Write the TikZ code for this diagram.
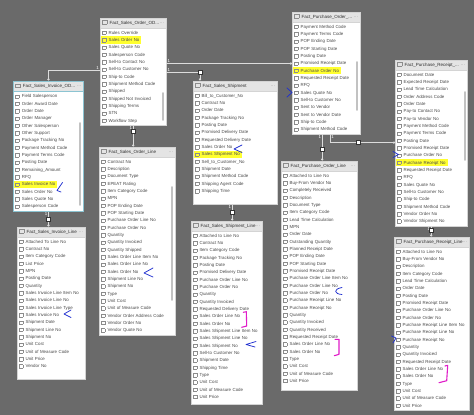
\documentclass[tikz,border=0pt]{standalone}
\usepackage{fontspec}
\setmainfont{Liberation Sans}
\usetikzlibrary{positioning,arrows.meta}
\definecolor{canvasgray}{HTML}{6A6A6A}
\definecolor{framegray}{HTML}{D4D4D4}
\definecolor{selframe}{HTML}{8CC4D2}
\definecolor{headgray}{HTML}{E4E4E4}
\definecolor{headtext}{HTML}{2E2E2E}
\definecolor{rowtext}{HTML}{4A4A4A}
\definecolor{icongray}{HTML}{8C8C8C}
\definecolor{hlyellow}{HTML}{FFFF30}
\definecolor{relgray}{HTML}{DCDCDC}
\definecolor{scrollgray}{HTML}{C2C2C2}
\definecolor{penblue}{HTML}{2030D0}
\definecolor{penpink}{HTML}{E01CC8}
\setlength{\fboxsep}{0pt}
\setlength{\fboxrule}{0.35pt}
\newcommand{\rowfont}{\fontsize{4.4}{7.33}\selectfont}
\newcommand{\headfont}{\fontsize{4.5}{6}\selectfont}
\newcommand{\cardfont}{\fontsize{4.4}{5}\selectfont}
\newcommand{\ic}{\strut\textcolor{icongray}{\fbox{\rule{0pt}{3pt}\rule{3.3pt}{0pt}}}\hspace{2.4pt}}
\newcommand{\tic}{\textcolor{icongray}{\fbox{\rule{0pt}{3.6pt}\rule{4.2pt}{0pt}}}\hspace{2.5pt}}
\newcommand{\hl}[1]{\hspace*{-1pt}\colorbox{hlyellow}{\hspace{1pt}#1\hspace{2pt}}}
\newcommand{\menudots}{\hfill\textcolor{icongray}{\textperiodcentered\textperiodcentered\textperiodcentered}}
\newcommand{\tailpad}[1]{\rule[-#1]{0pt}{0pt}}

\begin{document}
\begin{tikzpicture}[x=1pt, y=-1pt,
  tblhead/.style={draw=framegray, fill=headgray, anchor=north west, inner xsep=2pt, inner ysep=0pt, minimum height=10pt, align=left, font=\headfont, text=headtext},
  tblbody/.style={draw=framegray, fill=white, anchor=north west, inner xsep=2pt, inner ysep=1pt, align=left, font=\rowfont, text=rowtext},
  rel/.style={draw=relgray, line width=0.6pt, -{Circle[length=2.2pt]}},
  relmark/.style={draw=black!80, fill=white, line width=0.8pt, minimum size=4pt, inner sep=0pt},
  card/.style={font=\cardfont, text=white, inner sep=0.8pt},
  scrollbar/.style={draw=scrollgray, line width=1.8pt, line cap=round},
  penmark/.style={draw=penblue, line width=0.75pt, line cap=round, line join=round},
  bracemark/.style={draw=penpink, line width=1.1pt, line cap=round, line join=round}]
\useasboundingbox (0,0) rectangle (474,415);
\fill[canvasgray] (0,0) rectangle (474,415);
%			\draw[help lines] (0,0) grid[step=50] (474,415);

% header tables
\node[tblhead, draw=selframe, line width=0.9pt, text width=66pt] (sinvodh) at (13,80.5) {\tic Fact\_Sales\_Invoice\_OD...\menudots};
\node[tblbody, draw=selframe, line width=0.9pt, text width=66pt] (sinvod) at (sinvodh.south west) {\ic Field Salesperson\\ \ic Order Award Date\\ \ic Order Date\\ \ic Order Manager\\ \ic Other Salesperson\\ \ic Other Support\\ \ic Package Tracking No\\ \ic Payment Method Code\\ \ic Payment Terms Code\\ \ic Posting Date\\ \ic Remaining\_Amount\\ \ic RFQ\\ \hl{\ic Sales Invoice No}\\ \ic Sales Order No\\ \ic Sales Quote No\\ \ic Salesperson Code};

\node[tblhead, text width=62pt] (sordodh) at (100,17.5) {\tic Fact\_Sales\_Order\_OD...\menudots};
\node[tblbody, text width=62pt] (sordod) at (sordodh.south west) {\ic Rules Override\\ \hl{\ic Sales Order No}\\ \ic Sales Quote No\\ \ic Salesperson Code\\ \ic Sell-to Contact No\\ \ic Sell-to Customer No\\ \ic Ship-to Code\\ \ic Shipment Method Code\\ \ic Shipped\\ \ic Shipped Not Invoiced\\ \ic Shipping Terms\\ \ic STN\\ \ic Workflow Step};

\node[tblhead, text width=80pt] (sshiph) at (193,80.5) {\tic Fact\_Sales\_Shipment\menudots};
\node[tblbody, text width=80pt] (sship) at (sshiph.south west) {\ic Bill\_to\_Customer\_No\\ \ic Contract No\\ \ic Order Date\\ \ic Package Tracking No\\ \ic Posting Date\\ \ic Promised Delivery Date\\ \ic Requested Delivery Date\\ \ic Sales Order No\\ \hl{\ic Sales Shipment No}\\ \ic Sell\_to\_Customer\_No\\ \ic Shipment Date\\ \ic Shipment Method Code\\ \ic Shipping Agent Code\\ \ic Shipping Time\tailpad{11pt}};

\node[tblhead, text width=64pt] (pordh) at (292,11.5) {\tic Fact\_Purchase\_Order\_...\menudots};
\node[tblbody, text width=64pt] (pord) at (pordh.south west) {\ic Payment Method Code\\ \ic Payment Terms Code\\ \ic POP Ending Date\\ \ic POP Starting Date\\ \ic Posting Date\\ \ic Promised Receipt Date\\ \hl{\ic Purchase Order No}\\ \ic Requested Receipt Date\\ \ic RFQ\\ \ic Sales Quote No\\ \ic Sell-to Customer No\\ \ic Sent to Vendor\\ \ic Sent to Vendor Date\\ \ic Ship-to Code\\ \ic Shipment Method Code};

\node[tblhead, text width=68pt] (prech) at (395,59.5) {\tic Fact\_Purchase\_Receipt\_...\menudots};
\node[tblbody, text width=68pt] (prec) at (prech.south west) {\ic Document Date\\ \ic Expected Receipt Date\\ \ic Lead Time Calculation\\ \ic Order Address Code\\ \ic Order Date\\ \ic Pay-to Contact No\\ \ic Pay-to Vendor No\\ \ic Payment Method Code\\ \ic Payment Terms Code\\ \ic Posting Date\\ \ic Promised Receipt Date\\ \ic Purchase Order No\\ \hl{\ic Purchase Receipt No}\\ \ic Requested Receipt Date\\ \ic RFQ\\ \ic Sales Quote No\\ \ic Sell-to Customer No\\ \ic Ship-to Code\\ \ic Shipment Method Code\\ \ic Vendor Order No\\ \ic Vendor Shipment No};

% line tables
\node[tblhead, text width=72pt] (solh) at (99,146.5) {\tic Fact\_Sales\_Order\_Line\menudots};
\node[tblbody, text width=72pt] (sol) at (solh.south west) {\ic Contract No\\ \ic Description\\ \ic Document Type\\ \ic EPEAT Rating\\ \ic Item Category Code\\ \ic MPN\\ \ic POP Ending Date\\ \ic POP Starting Date\\ \ic Purchase Order Line No\\ \ic Purchase Order No\\ \ic Quantity\\ \ic Quantity Invoiced\\ \ic Quantity Shipped\\ \ic Sales Order Line Item No\\ \ic Sales Order Line No\\ \ic Sales Order No\\ \ic Shipment Line No\\ \ic Shipment No\\ \ic Type\\ \ic Unit Cost\\ \ic Unit of Measure Code\\ \ic Vendor Order Address Code\\ \ic Vendor Order No\\ \ic Vendor Quote No};

\node[tblhead, text width=64pt] (silh) at (17,226.5) {\tic Fact\_Sales\_Invoice\_Line\menudots};
\node[tblbody, text width=64pt] (sil) at (silh.south west) {\ic Attached To Line No\\ \ic Contract No\\ \ic Item Category Code\\ \ic List Price\\ \ic MPN\\ \ic Posting Date\\ \ic Quantity\\ \ic Sales Invoice Line Item No\\ \ic Sales Invoice Line No\\ \ic Sales Invoice Line Type\\ \ic Sales Invoice No\\ \ic Shipment Date\\ \ic Shipment Line No\\ \ic Shipment No\\ \ic Unit Cost\\ \ic Unit of Measure Code\\ \ic Unit Price\\ \ic Vendor No\tailpad{10.8pt}};

\node[tblhead, text width=67pt] (sshlh) at (191,220.5) {\tic Fact\_Sales\_Shipment\_Line\menudots};
\node[tblbody, text width=67pt] (sshl) at (sshlh.south west) {\ic Attached to Line No\\ \ic Contract No\\ \ic Item Category Code\\ \ic Package Tracking No\\ \ic Posting Date\\ \ic Promised Delivery Date\\ \ic Purchase Order Line No\\ \ic Purchase Order No\\ \ic Quantity\\ \ic Quantity Invoiced\\ \ic Requested Delivery Date\\ \ic Sales Order Line No\\ \ic Sales Order No\\ \ic Sales Shipment Line Item No\\ \ic Sales Shipment Line No\\ \ic Sales Shipment No\\ \ic Sell-to Customer No\\ \ic Shipment Date\\ \ic Shipping Time\\ \ic Type\\ \ic Unit Cost\\ \ic Unit of Measure Code\\ \ic Unit Price\tailpad{5pt}};

\node[tblhead, text width=72pt] (polh) at (281,160.5) {\tic Fact\_Purchase\_Order\_Line\menudots};
\node[tblbody, text width=72pt] (pol) at (polh.south west) {\ic Attached to Line No\\ \ic Buy-From Vendor No\\ \ic Completely Received\\ \ic Description\\ \ic Document Type\\ \ic Item Category Code\\ \ic Lead Time Calculation\\ \ic MPN\\ \ic Order Date\\ \ic Outstanding Quantity\\ \ic Planned Receipt Date\\ \ic POP Ending Date\\ \ic POP Starting Date\\ \ic Promised Receipt Date\\ \ic Purchase Order Line Item No\\ \ic Purchase Order Line No\\ \ic Purchase Order No\\ \ic Purchase Receipt Line No\\ \ic Purchase Receipt No\\ \ic Quantity\\ \ic Quantity Invoiced\\ \ic Quantity Received\\ \ic Requested Receipt Date\\ \ic Sales Order Line No\\ \ic Sales Order No\\ \ic Type\\ \ic Unit Cost\\ \ic Unit of Measure Code\\ \ic Unit Price\tailpad{7pt}};

\node[tblhead, text width=71pt] (prlh) at (394,236.5) {\tic Fact\_Purchase\_Receipt\_Line\menudots};
\node[tblbody, text width=71pt] (prl) at (prlh.south west) {\ic Attached to Line No\\ \ic Buy-From Vendor No\\ \ic Description\\ \ic Item Category Code\\ \ic Lead Time Calculation\\ \ic Order Date\\ \ic Posting Date\\ \ic Promised Receipt Date\\ \ic Purchase Order Line No\\ \ic Purchase Order No\\ \ic Purchase Receipt Line Item No\\ \ic Purchase Receipt Line No\\ \ic Purchase Receipt No\\ \ic Quantity\\ \ic Quantity Invoiced\\ \ic Requested Receipt Date\\ \ic Sales Order Line No\\ \ic Sales Order No\\ \ic Type\\ \ic Unit Cost\\ \ic Unit of Measure Code\\ \ic Unit Price};

% scroll bars
\draw[scrollbar] (80,123) -- (80,205);
\draw[scrollbar] (163,93) -- (163,120);
\draw[scrollbar] (357,62) -- (357,110);
\draw[scrollbar] (465,92) -- (465,160);
\draw[scrollbar] (172,187) -- (172,300);

% relationships
\coordinate (r2) at ([yshift=13.2pt]sordod.east);
\coordinate (r3) at ([yshift=4.2pt]sordod.east);
\coordinate (r6) at ([xshift=-3pt]sship.south);
\coordinate (r7) at ([xshift=-4pt]pord.south);
\coordinate (r8) at ([xshift=4pt]pord.south);
\draw[rel] ([yshift=6.2pt]sordod.west) -| node[card, pos=0, anchor=south east] (c1) {1} (sinvodh.north);
\draw[rel] (r2) -- node[card, pos=0, anchor=south west] (c2) {1} (r2 -| pord.west);
\draw[rel] (r3) -| node[card, pos=0, anchor=south west] (c3) {1} node[relmark, pos=0.5] (m3) {} ([xshift=7pt]sshiph.north west);
\draw[rel] (sordod.south) -- node[card, pos=0, anchor=north east] (c4) {1} node[relmark, pos=0.3] (m4) {} (sordod.south |- solh.north);
\draw[rel] (sinvod.south) -- node[card, pos=0, anchor=north east] (c5) {1} node[relmark, pos=0.5] (m5) {} (sinvod.south |- silh.north);
\draw[rel] (r6) -- node[card, pos=0, anchor=north east] (c6) {1} node[relmark, pos=0.5] (m6) {} (r6 |- sshlh.north);
\draw[rel] (r7) -- node[card, pos=0, anchor=north east] (c7) {1} node[relmark, pos=0.57] (m7) {} (r7 |- polh.north);
\draw[rel] (r8) |- node[card, pos=0, anchor=north west] (c8) {1} node[relmark, pos=0.72] (m8) {} ([yshift=5.45pt]prec.west);
\draw[rel] (prec.south) -- node[card, pos=0, anchor=north east] (c9) {1} node[relmark, pos=0.4] (m9) {} (prec.south |- prlh.north);

% pen marks
\draw[penmark] (62.5,182.5) -- (57,190.5) -- (61,192);
\draw[penmark] (242,145) -- (234,149) -- (242,152.5);
\draw[penmark] (153,268) -- (144,273) -- (153,277);
\draw[penmark] (71,310) -- (64,314) -- (71,317.5);
\draw[penmark] (256,341.5) -- (246,344.5) -- (255,347);
\draw[penmark] (342,287.5) .. controls (333,289) and (334,294) .. (342,294.5);
\draw[penmark] (287,88) -- (292,92.5) -- (287,97);
\draw[penmark] (393,151.5) -- (398.5,154.5) -- (393,157.5);
\draw[penmark] (391.5,336) -- (396,338) -- (393,343);
\draw[bracemark] (243.3,312.3) -- (246.3,311.7) -- (246.7,326) -- (241.7,327.3);
\draw[bracemark] (335,339.3) -- (339,339.3) -- (339,354.3) -- (334.3,355.7);
\draw[bracemark] (445,366) -- (447.7,365.3) -- (446.7,380.7) -- (439,382.7);
\end{tikzpicture}
\end{document}
